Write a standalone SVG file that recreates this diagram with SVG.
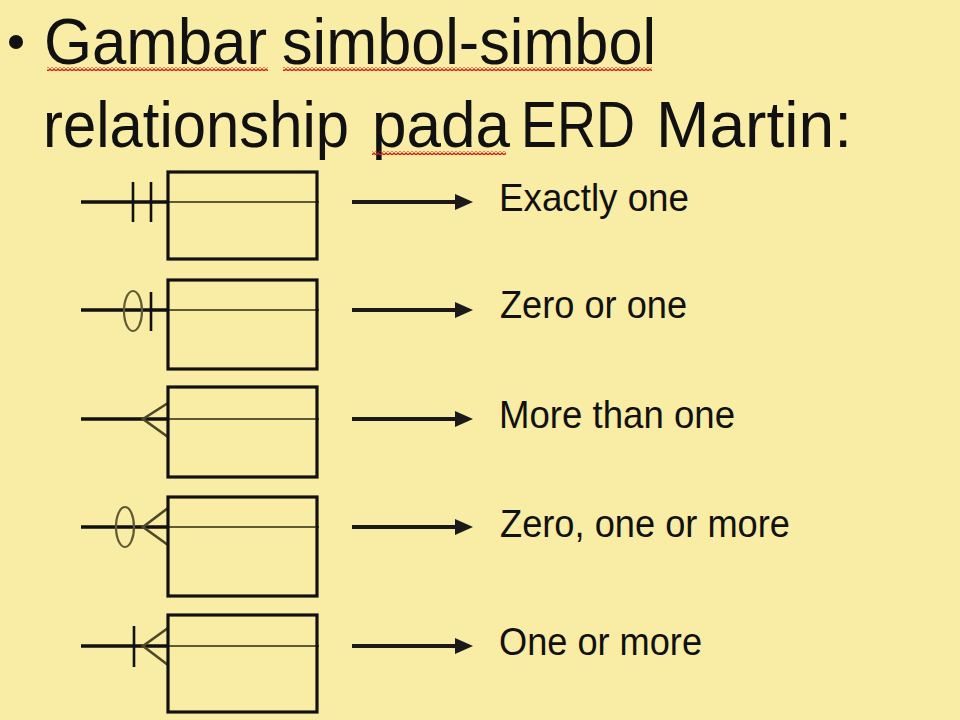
<svg xmlns="http://www.w3.org/2000/svg" width="960" height="720" viewBox="0 0 960 720">
  <defs>
    <pattern id="squig" width="4" height="4" patternUnits="userSpaceOnUse">
      <path d="M-1 2 L0 3 L2 1 L4 3 L5 2" fill="none" stroke="#d0201c" stroke-width="1.4"/>
    </pattern>
    <marker id="ah" markerWidth="5" markerHeight="4" refX="0.5" refY="2" orient="auto" markerUnits="strokeWidth">
      <path d="M0 0 L4.5 2 L0 4 Z" fill="#1a1a1a"/>
    </marker>
    <style>
      .title { font-family: "Liberation Sans", Arial, sans-serif; font-size: 64px; fill: #111; }
      .lbl { font-family: "Liberation Sans", Arial, sans-serif; font-size: 39px; fill: #111; }
      .box { fill: none; stroke: #111; stroke-width: 3.2; }
      .inner { stroke: #5f5a33; stroke-width: 2; }
      .lead { stroke: #111; stroke-width: 3.5; }
      .tick { stroke: #111; stroke-width: 2.6; }
      .oval { fill: none; stroke: #5f5a33; stroke-width: 2.2; }
      .crow { fill: none; stroke: #4d4826; stroke-width: 2.6; }
      .arrow { stroke: #1a1a1a; stroke-width: 4; fill: none; }
    </style>
  </defs>
  <rect x="0" y="0" width="960" height="720" fill="#F9ECA5"/>

  <g id="title">
    <circle cx="16" cy="42" r="7" fill="#111"/>
    <text class="title" x="44" y="64" textLength="223" lengthAdjust="spacingAndGlyphs">Gambar</text>
    <text class="title" x="282" y="64" textLength="374" lengthAdjust="spacingAndGlyphs">simbol-simbol</text>
    <text class="title" x="43" y="147" textLength="306" lengthAdjust="spacingAndGlyphs">relationship</text>
    <text class="title" x="372" y="147" textLength="138" lengthAdjust="spacingAndGlyphs">pada</text>
    <text class="title" x="521" y="147" textLength="114" lengthAdjust="spacingAndGlyphs">ERD</text>
    <text class="title" x="656" y="147" textLength="196" lengthAdjust="spacingAndGlyphs">Martin:</text>
    <rect x="47" y="67" width="221" height="4" fill="url(#squig)"/>
    <rect x="283" y="67" width="369" height="4" fill="url(#squig)"/>
    <rect x="372" y="151" width="134" height="4" fill="url(#squig)"/>
  </g>

  <g id="exactly-one">
    <line class="lead" x1="81" y1="202" x2="168" y2="202"/>
    <line class="tick" x1="133" y1="182" x2="133" y2="222"/>
    <line class="tick" x1="151" y1="182" x2="151" y2="222"/>
    <line class="inner" x1="168" y1="202" x2="319" y2="202"/>
    <rect class="box" x="168" y="172" width="149" height="87"/>
  </g>

  <g id="zero-or-one">
    <line class="lead" x1="81" y1="310" x2="168" y2="310"/>
    <ellipse class="oval" cx="133" cy="311" rx="9" ry="20"/>
    <line class="tick" x1="151" y1="292" x2="151" y2="331"/>
    <line class="inner" x1="168" y1="310" x2="319" y2="310"/>
    <rect class="box" x="168" y="280" width="149" height="89"/>
  </g>

  <g id="more-than-one">
    <line class="lead" x1="81" y1="419" x2="168" y2="419"/>
    <polyline class="crow" points="168,403 143,419 168,437"/>
    <line class="inner" x1="168" y1="419" x2="319" y2="419"/>
    <rect class="box" x="168" y="387" width="149" height="90"/>
  </g>

  <g id="zero-one-or-more">
    <line class="lead" x1="81" y1="527" x2="168" y2="527"/>
    <ellipse class="oval" cx="125" cy="527" rx="9" ry="20"/>
    <polyline class="crow" points="168,508 143,527 168,545"/>
    <line class="inner" x1="168" y1="527" x2="319" y2="527"/>
    <rect class="box" x="168" y="497" width="149" height="99"/>
  </g>

  <g id="one-or-more">
    <line class="lead" x1="81" y1="646" x2="168" y2="646"/>
    <line class="tick" x1="134" y1="626" x2="134" y2="667"/>
    <polyline class="crow" points="168,628 143,646 168,665"/>
    <line class="inner" x1="168" y1="646" x2="319" y2="646"/>
    <rect class="box" x="168" y="615" width="149" height="97"/>
  </g>

  <g id="connectors">
    <line class="arrow" x1="352" y1="202" x2="457" y2="202" marker-end="url(#ah)"/>
    <line class="arrow" x1="352" y1="310" x2="457" y2="310" marker-end="url(#ah)"/>
    <line class="arrow" x1="352" y1="419" x2="457" y2="419" marker-end="url(#ah)"/>
    <line class="arrow" x1="352" y1="527" x2="457" y2="527" marker-end="url(#ah)"/>
    <line class="arrow" x1="352" y1="646" x2="457" y2="646" marker-end="url(#ah)"/>
  </g>

  <g id="label-exactly-one"><text class="lbl" x="499" y="211" textLength="190" lengthAdjust="spacingAndGlyphs">Exactly one</text></g>
  <g id="label-zero-or-one"><text class="lbl" x="500" y="318" textLength="187" lengthAdjust="spacingAndGlyphs">Zero or one</text></g>
  <g id="label-more-than-one"><text class="lbl" x="499" y="428" textLength="236" lengthAdjust="spacingAndGlyphs">More than one</text></g>
  <g id="label-zero-one-or-more"><text class="lbl" x="500" y="537" textLength="290" lengthAdjust="spacingAndGlyphs">Zero, one or more</text></g>
  <g id="label-one-or-more"><text class="lbl" x="499" y="655" textLength="203" lengthAdjust="spacingAndGlyphs">One or more</text></g>
</svg>
